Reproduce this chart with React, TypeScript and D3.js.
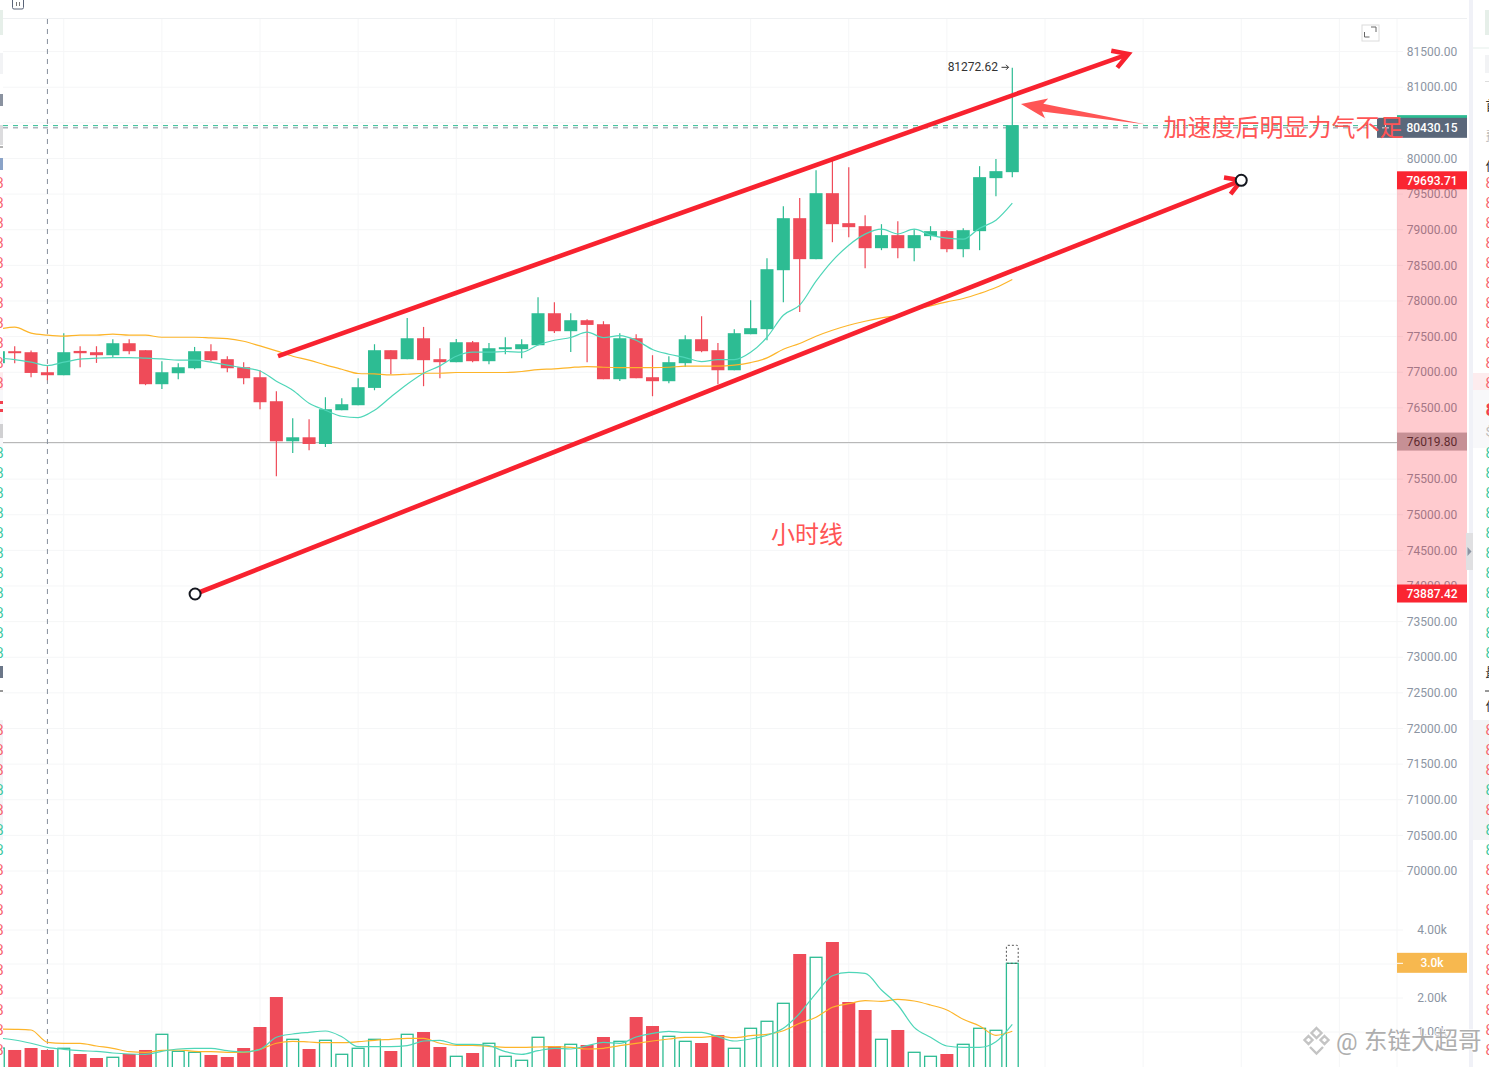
import React, { useEffect, useRef } from 'react';
import * as d3 from 'd3';

// hourly candles
const opens = [77127, 77295, 77281, 77000, 76958, 77299, 77281, 77239, 77407, 77309, 76832, 76986, 77056, 77295, 77183, 77070, 76930, 76593, 76031, 76087, 75993, 76467, 76537, 76780, 77309, 77183, 77477, 77183, 77141, 77421, 77155, 77323, 77323, 77379, 77828, 77576, 77730, 77674, 76902, 77477, 76930, 76874, 77127, 77463, 77309, 77028, 77534, 77604, 78432, 79162, 78587, 79513, 79092, 79050, 78741, 78924, 78741, 78910, 78980, 78727, 78980, 79724, 79808];
const highs = [77295, 77365, 77305, 77085, 77548, 77365, 77365, 77463, 77463, 77309, 77155, 77127, 77355, 77393, 77225, 77141, 77028, 76733, 76354, 76340, 76649, 76635, 76916, 77393, 77309, 77762, 77636, 77337, 77468, 77439, 77411, 77491, 77463, 78053, 77983, 77828, 77744, 77716, 77548, 77534, 77239, 77225, 77520, 77786, 77411, 77604, 78011, 78601, 79331, 79447, 79836, 79977, 79878, 79204, 79078, 79120, 79008, 79050, 78994, 79022, 79892, 79991, 81272.62];
const lows = [77127, 77127, 76930, 76888, 76958, 77070, 77131, 77211, 77253, 76818, 76766, 76902, 77042, 77155, 77000, 76832, 76481, 75540, 75867, 75905, 75951, 76467, 76537, 76747, 76972, 77183, 76804, 76916, 77141, 77141, 77113, 77253, 77197, 77379, 77552, 77285, 77141, 76902, 76878, 76916, 76663, 76846, 77075, 77281, 76832, 77028, 77534, 77449, 77983, 77847, 78587, 78825, 78896, 78460, 78713, 78601, 78559, 78853, 78685, 78615, 78713, 79471, 79738];
const closes = [77295, 77267, 76990, 76958, 77281, 77267, 77239, 77407, 77295, 76832, 77000, 77070, 77295, 77169, 77056, 76916, 76579, 76031, 76087, 75993, 76481, 76551, 76790, 77309, 77183, 77477, 77169, 77141, 77421, 77155, 77337, 77351, 77393, 77828, 77576, 77730, 77664, 76902, 77477, 76916, 76874, 77141, 77463, 77295, 77028, 77548, 77618, 78446, 79162, 78587, 79513, 79078, 79036, 78741, 78924, 78741, 78924, 78980, 78727, 78994, 79738, 79822, 80468];

const priceMaFast = [77197, 77178, 77141, 77094, 77141, 77183, 77197, 77206, 77206, 77197, 77187, 77169, 77169, 77141, 77099, 77061, 77018, 76874, 76747, 76565, 76467, 76382, 76364, 76467, 76653, 76832, 76986, 77089, 77225, 77281, 77281, 77291, 77281, 77383, 77449, 77487, 77562, 77487, 77515, 77449, 77319, 77253, 77206, 77150, 77178, 77178, 77281, 77491, 77800, 77941, 78278, 78563, 78783, 78938, 79008, 78942, 79008, 78924, 78881, 78867, 79022, 79134, 79373];
const priceMaSlow = [77604, 77632, 77548, 77520, 77506, 77520, 77520, 77534, 77520, 77520, 77491, 77491, 77491, 77482, 77473, 77435, 77369, 77299, 77225, 77169, 77103, 77042, 76982, 76976, 76962, 76972, 76986, 76986, 76996, 76996, 76996, 76996, 77010, 77038, 77046, 77066, 77080, 77070, 77066, 77066, 77066, 77070, 77085, 77085, 77085, 77099, 77136, 77201, 77323, 77403, 77506, 77590, 77660, 77716, 77762, 77800, 77871, 77931, 77987, 78035, 78105, 78189, 78302];

const volumes = [529, 471, 529, 471, 521, 353, 235, 256, 353, 471, 932, 432, 403, 324, 265, 529, 1147, 2029, 785, 500, 756, 344, 521, 785, 441, 932, 1000, 559, 285, 382, 668, 285, 168, 844, 588, 638, 618, 853, 726, 1441, 1176, 873, 726, 676, 912, 521, 1109, 1315, 1844, 3294, 3197, 3647, 1882, 1647, 785, 1059, 403, 285, 353, 638, 1109, 1050, 3020];
const volMaFast = [824, 765, 668, 550, 491, 450, 432, 382, 353, 344, 432, 500, 521, 521, 450, 412, 491, 844, 941, 991, 1029, 862, 568, 568, 568, 597, 735, 756, 638, 638, 597, 421, 344, 450, 521, 500, 597, 697, 668, 853, 962, 1021, 991, 991, 862, 735, 794, 903, 1109, 1550, 2138, 2656, 2756, 2726, 2235, 1794, 1138, 844, 588, 550, 550, 715, 1226];
const volMaSlow = [1088, 1079, 1059, 697, 668, 668, 588, 521, 421, 403, 462, 471, 432, 421, 403, 403, 491, 668, 726, 706, 685, 685, 715, 756, 785, 815, 815, 668, 609, 609, 579, 550, 550, 559, 568, 550, 500, 521, 597, 668, 735, 794, 844, 844, 882, 832, 891, 932, 1038, 1256, 1432, 1726, 1832, 1920, 1903, 1962, 1912, 1794, 1647, 1373, 1176, 903, 1021];
const projectedVolume = 3550;

const priceTicks = [81500, 81000, 80500, 80000, 79500, 79000, 78500, 78000, 77500, 77000, 76500, 76000, 75500, 75000, 74500, 74000, 73500, 73000, 72500, 72000, 71500, 71000, 70500, 70000];
const hiddenPriceTicks = [80500, 76000];
const volumeTicks = [4000, 3000, 2000, 1000];
const gridIndexes = [4, 10, 16, 22, 28, 34, 40, 46, 52, 58, 64, 70, 76, 82];

// drawn lines, in [candle index, price]
const upperLine: [number, number][] = [[17.1, 77225], [69.1, 81465]];
const lowerLine: [number, number][] = [[12.03, 73887.42], [76, 79693.71]];
const calloutLine: [number, number][] = [[70.1, 80482], [62.53, 80763]];
const lastPrice = 80468;
const crosshairPrice = 80430.15;
const crosshairIndex = 3;
const lineTopPrice = 79693.71;
const lineBottomPrice = 73887.42;
const horizontalPrice = 76019.8;
const peakPrice = 81272.62;

const leftRows = 'rrrrrrrrrrr';
const greenRows = 'ggggggggggg';
const lowerRows = 'rrrgrggrrrrrrrrrr';

const GREEN = '#2dbc93';
const RED = '#ef4b59';
const TEAL = '#4fd6b8';
const ORANGE = '#fdb52a';
const AXIS_TEXT = '#8c95a3';
const GRID = '#f5f6f7';
const FONT = 'Roboto, sans-serif';
const CJK = '"Noto Sans CJK SC", sans-serif';

export default function App() {
  const svgRef = useRef<SVGSVGElement>(null);

  useEffect(() => {
    if (!svgRef.current) return;
    const svg = d3.select(svgRef.current);
    svg.selectAll('*').remove();

    const x = d3.scaleLinear().domain([0, 62]).range([-1.65, 1012.3]);
    const y = d3.scaleLinear().domain([70000, 81500]).range([871, 51.6]);
    const yVol = d3.scaleLinear().domain([0, 4000]).range([1066, 930]);

    const defs = svg.append('defs');
    defs.append('clipPath').attr('id', 'plot')
      .append('rect').attr('x', 3).attr('y', 19).attr('width', 1394).attr('height', 1048);

    // grid
    svg.append('line').attr('x1', 3).attr('x2', 1467).attr('y1', 18.5).attr('y2', 18.5).attr('stroke', '#eef0f2');
    const grid = svg.append('g').attr('stroke', GRID);
    grid.selectAll('.h').data(priceTicks).enter().append('line')
      .attr('x1', 3).attr('x2', 1403).attr('y1', d => y(d)).attr('y2', d => y(d));
    grid.selectAll('.hv').data(volumeTicks).enter().append('line')
      .attr('x1', 3).attr('x2', 1403).attr('y1', d => yVol(d)).attr('y2', d => yVol(d));
    grid.selectAll('.v').data(gridIndexes).enter().append('line')
      .attr('x1', d => x(d)).attr('x2', d => x(d)).attr('y1', 19).attr('y2', 1067);
    grid.append('line').attr('x1', 1397).attr('x2', 1397).attr('y1', 19).attr('y2', 1067);

    const plot = svg.append('g').attr('clip-path', 'url(#plot)');

    // price lines
    plot.append('line').attr('x1', 3).attr('x2', 1397)
      .attr('y1', y(horizontalPrice) + 0.5).attr('y2', y(horizontalPrice) + 0.5)
      .attr('stroke', '#b4b4b4').attr('stroke-width', 1);
    plot.append('line').attr('x1', 3).attr('x2', 1397)
      .attr('y1', y(lastPrice) + 0.5).attr('y2', y(lastPrice) + 0.5)
      .attr('stroke', GREEN).attr('stroke-dasharray', '5,5');
    plot.append('line').attr('x1', 3).attr('x2', 1397)
      .attr('y1', y(crosshairPrice)).attr('y2', y(crosshairPrice))
      .attr('stroke', '#868e9b').attr('stroke-dasharray', '5,5');
    plot.append('line').attr('x1', x(crosshairIndex)).attr('x2', x(crosshairIndex))
      .attr('y1', 19).attr('y2', 1067)
      .attr('stroke', '#868e9b').attr('stroke-dasharray', '5,5');

    // candles
    const candles = plot.append('g').selectAll('g').data(closes).enter().append('g');
    const candleColor = (i: number) => (closes[i] >= opens[i] ? GREEN : RED);
    candles.append('line')
      .attr('x1', (_, i) => x(i)).attr('x2', (_, i) => x(i))
      .attr('y1', (_, i) => y(highs[i])).attr('y2', (_, i) => y(lows[i]))
      .attr('stroke', (_, i) => candleColor(i)).attr('stroke-width', 1.2);
    candles.append('rect')
      .attr('x', (_, i) => x(i) - 6.5).attr('width', 13)
      .attr('y', (_, i) => y(Math.max(opens[i], closes[i])))
      .attr('height', (_, i) => Math.max(1.5, Math.abs(y(opens[i]) - y(closes[i]))))
      .attr('fill', (_, i) => candleColor(i));

    // moving averages
    const priceLine = d3.line<number>().x((_, i) => x(i)).y(d => y(d)).curve(d3.curveMonotoneX);
    plot.append('path').attr('d', priceLine(priceMaSlow)).attr('fill', 'none').attr('stroke', ORANGE).attr('stroke-width', 1.2);
    plot.append('path').attr('d', priceLine(priceMaFast)).attr('fill', 'none').attr('stroke', TEAL).attr('stroke-width', 1.2);

    // volume
    const isUp = (i: number) => closes[i] >= opens[i];
    plot.append('g').selectAll('rect').data(volumes).enter().append('rect')
      .attr('x', (_, i) => x(i) - (isUp(i) ? 5.9 : 6.5))
      .attr('width', (_, i) => (isUp(i) ? 11.8 : 13))
      .attr('y', d => yVol(d))
      .attr('height', d => 1069 - yVol(d))
      .attr('fill', (_, i) => (isUp(i) ? '#fff' : RED))
      .attr('stroke', (_, i) => (isUp(i) ? GREEN : 'none'))
      .attr('stroke-width', 1.3);
    plot.append('rect')
      .attr('x', x(62) - 5.9).attr('width', 11.8)
      .attr('y', yVol(projectedVolume)).attr('height', yVol(volumes[62]) - yVol(projectedVolume))
      .attr('rx', 1.5)
      .attr('fill', 'none').attr('stroke', '#555').attr('stroke-dasharray', '2,2');
    const volLine = d3.line<number>().x((_, i) => x(i)).y(d => yVol(d)).curve(d3.curveMonotoneX);
    plot.append('path').attr('d', volLine(volMaSlow)).attr('fill', 'none').attr('stroke', ORANGE).attr('stroke-width', 1.2);
    plot.append('path').attr('d', volLine(volMaFast)).attr('fill', 'none').attr('stroke', TEAL).attr('stroke-width', 1.2);

    // axis labels
    const axis = svg.append('g').attr('font-family', FONT).attr('font-size', 12)
      .attr('fill', AXIS_TEXT).attr('text-anchor', 'middle');
    axis.selectAll('.p').data(priceTicks.filter(d => !hiddenPriceTicks.includes(d))).enter().append('text')
      .attr('x', 1432).attr('y', d => y(d)).attr('dy', '0.35em')
      .text(d => d3.format('.2f')(d));
    axis.selectAll('.v').data(volumeTicks).enter().append('text')
      .attr('x', 1432).attr('y', d => yVol(d)).attr('dy', '0.35em')
      .text(d => `${d3.format('.2f')(d / 1000)}k`);

    // gray level badge sits under the pink band
    svg.append('rect').attr('x', 1397).attr('width', 70).attr('y', y(horizontalPrice) - 9.5).attr('height', 18)
      .attr('fill', '#b7b4b6');
    svg.append('text').attr('x', 1432).attr('y', y(horizontalPrice) - 0.5).attr('dy', '0.35em')
      .attr('text-anchor', 'middle').attr('font-family', FONT).attr('font-size', 12).attr('fill', '#333')
      .text(horizontalPrice.toFixed(2));

    // band between the two ends of the lower line
    svg.append('rect').attr('x', 1397).attr('width', 70)
      .attr('y', y(lineTopPrice)).attr('height', y(lineBottomPrice) - y(lineTopPrice))
      .attr('fill', '#ff0a1a').attr('opacity', 0.21);

    const badge = (fill: string, label: string, top: number, h: number, left = 1397) => {
      svg.append('rect').attr('x', left).attr('width', 1467 - left).attr('y', top).attr('height', h).attr('fill', fill);
      svg.append('text').attr('x', 1432).attr('y', top + h / 2).attr('dy', '0.35em')
        .attr('text-anchor', 'middle').attr('font-family', FONT).attr('font-size', 12)
        .attr('font-weight', 500).attr('fill', '#fff').text(label);
    };
    svg.append('rect').attr('x', 1397).attr('width', 70).attr('y', y(lastPrice) - 10).attr('height', 20).attr('fill', GREEN);
    badge('#5a677a', crosshairPrice.toFixed(2), y(crosshairPrice) - 10, 20, 1377);
    svg.append('path').attr('d', `M1382 ${y(crosshairPrice)}h7M1385.5 ${y(crosshairPrice) - 3.5}v7`)
      .attr('stroke', '#fff').attr('stroke-width', 0.8);
    badge('#fa2531', lineTopPrice.toFixed(2), y(lineTopPrice) - 9, 18);
    badge('#fa2531', lineBottomPrice.toFixed(2), y(lineBottomPrice) - 9.5, 18);
    badge('#f7b84f', '3.0k', yVol(volumes[62]) - 10.5, 20);
    svg.append('line').attr('x1', 1397).attr('x2', 1403)
      .attr('y1', yVol(volumes[62])).attr('y2', yVol(volumes[62])).attr('stroke', '#fff');

    // peak label
    svg.append('text').attr('x', 998).attr('y', y(peakPrice) - 1).attr('dy', '0.35em')
      .attr('text-anchor', 'end').attr('font-family', FONT).attr('font-size', 12).attr('fill', '#333')
      .text(peakPrice.toFixed(2));
    svg.append('path').attr('d', `M1001.5 ${y(peakPrice) - 0.5}h7m-2.5 -2.5l2.5 2.5l-2.5 2.5`)
      .attr('fill', 'none').attr('stroke', '#333').attr('stroke-width', 1);

    // drawn arrows
    const px = (p: [number, number]): [number, number] => [x(p[0]), y(p[1])];
    const drawArrow = (line: [number, number][]) => {
      const [a, b] = line.map(px);
      const len = Math.hypot(b[0] - a[0], b[1] - a[1]);
      const ux = (b[0] - a[0]) / len;
      const uy = (b[1] - a[1]) / len;
      const g = svg.append('g').attr('fill', 'none').attr('stroke', '#f8222f').attr('stroke-width', 4.6);
      g.append('line').attr('x1', a[0]).attr('y1', a[1]).attr('x2', b[0]).attr('y2', b[1]);
      const back = 15;
      const wide = 9;
      g.append('path').attr('d', d3.line()([
        [b[0] - ux * back - uy * wide, b[1] - uy * back + ux * wide],
        [b[0], b[1]],
        [b[0] - ux * back + uy * wide, b[1] - uy * back - ux * wide],
      ]));
    };
    drawArrow(upperLine);
    drawArrow(lowerLine);
    lowerLine.map(px).forEach(p => {
      svg.append('circle').attr('cx', p[0]).attr('cy', p[1]).attr('r', 5.5)
        .attr('fill', '#fff').attr('stroke', '#14171f').attr('stroke-width', 2);
    });

    // callout arrow, tapered to nothing at the tail
    const [tail, tip] = calloutLine.map(px);
    const cLen = Math.hypot(tip[0] - tail[0], tip[1] - tail[1]);
    const cx = (tip[0] - tail[0]) / cLen;
    const cy = (tip[1] - tail[1]) / cLen;
    const at = (along: number, side: number): [number, number] => [
      tip[0] - cx * along - cy * side,
      tip[1] - cy * along + cx * side,
    ];
    svg.append('path')
      .attr('d', `${d3.line()([tail, at(22, 4), at(26, 10), tip, at(26, -10), at(22, -4)])}Z`)
      .attr('fill', '#ff5555');

    // hand written notes
    const notes = svg.append('g').attr('font-family', CJK).attr('font-size', 24).attr('fill', '#ff5555');
    notes.append('text').attr('x', 1163.5).attr('y', 127).attr('dy', '0.36em').text('加速度后明显力气不足');
    notes.append('text').attr('x', 771).attr('y', 534.5).attr('dy', '0.36em').text('小时线');

    // expand icon and top left tool
    svg.append('rect').attr('x', 1362).attr('y', 25).attr('width', 17).attr('height', 16)
      .attr('fill', '#fff').attr('stroke', '#dcdcdc');
    svg.append('path').attr('d', 'M1371 27H1376V32M1364.5 32V37H1369.5')
      .attr('fill', 'none').attr('stroke', '#666');
    svg.append('rect').attr('x', 12.5).attr('y', -3).attr('width', 11).attr('height', 12).attr('rx', 1.5)
      .attr('fill', '#fff').attr('stroke', '#5a6478');
    svg.append('path').attr('d', 'M16.5 2V6M19.5 2V6').attr('stroke', '#777');

    // neighbouring panels cut off by the screenshot
    const panels: [number, number, number, number, string][] = [
      [1469, 0, 4, 1067, '#f0f1f7'],
      [1473, 373, 16, 17, '#fdecee'],
      [1473, 390, 16, 58, '#f8f8fa'],
      [1473, 720, 16, 120, '#f3f4f6'],
      [1485, 10, 4, 25, '#e6efe9'],
      [1473, 47.5, 16, 1, '#e5f0ec'],
      [1485, 55, 4, 18, '#f2f3f5'],
      [1485, 81, 4, 1, '#dddddd'],
      [0, 372, 3, 18, '#fdecee'],
      [0, 390, 3, 58, '#f8f8fa'],
      [0, 720, 3, 120, '#f3f4f6'],
      [0, 10, 3, 25, '#e6efe9'],
      [0, 53, 3, 21, '#f2f3f5'],
      [0, 94, 3, 12, '#8a92a0'],
      [0, 125, 3, 20, '#dcdcde'],
      [0, 158, 3, 12, '#8aa3c8'],
      [0, 401, 3, 3, '#f2404e'],
      [0, 409, 3, 3, '#f2404e'],
      [0, 424, 3, 14, '#d0d0d2'],
      [0, 666, 3, 12, '#6b7688'],
      [1466, 533, 7, 37, '#e0e0e2'],
    ];
    svg.append('g').selectAll('rect').data(panels).enter().append('rect')
      .attr('x', d => d[0]).attr('y', d => d[1]).attr('width', d => d[2]).attr('height', d => d[3]).attr('fill', d => d[4]);
    svg.append('path').attr('d', 'M1467.5 547l4 4.5l-4 4.5Z').attr('fill', '#8c95a3');

    const rowColor = (c: string) => (c === 'r' ? '#f7626e' : '#3cc8a0');
    const rows: [string, number][] = [
      ...leftRows.split('').map((c, i): [string, number] => [c, 183 + i * 20]),
      ...greenRows.split('').map((c, i): [string, number] => [c, 453 + i * 20]),
      ...lowerRows.split('').map((c, i): [string, number] => [c, 730 + i * 20]),
    ];
    const edge = svg.append('g').attr('font-family', FONT).attr('font-size', 14);
    edge.selectAll('.r').data(rows).enter().append('text')
      .attr('x', 1485.5).attr('y', d => d[1]).attr('dy', '0.35em').attr('fill', d => rowColor(d[0])).text('8');
    edge.selectAll('.l').data(rows).enter().append('text')
      .attr('x', 3.5).attr('y', d => d[1]).attr('dy', '0.35em').attr('text-anchor', 'end').attr('fill', d => rowColor(d[0])).text('8');
    edge.append('text').attr('x', 1485.5).attr('y', 105).attr('dy', '0.35em').attr('font-family', CJK).attr('font-size', 13).attr('fill', '#333').text('首');
    edge.append('text').attr('x', 1485.5).attr('y', 135).attr('dy', '0.35em').attr('font-family', CJK).attr('font-size', 13).attr('fill', '#bbb').text('费');
    edge.append('text').attr('x', 1485.5).attr('y', 165).attr('dy', '0.35em').attr('font-family', CJK).attr('font-size', 13).attr('fill', '#333').text('价');
    edge.append('text').attr('x', 1485.5).attr('y', 410).attr('dy', '0.35em').attr('font-size', 18).attr('font-weight', 700).attr('fill', '#f2404e').text('8');
    edge.append('text').attr('x', 1485.5).attr('y', 431).attr('dy', '0.35em').attr('font-size', 13).attr('fill', '#bbb').text('$');
    edge.append('text').attr('x', 1485.5).attr('y', 672).attr('dy', '0.35em').attr('font-family', CJK).attr('font-size', 13).attr('fill', '#333').text('最');
    edge.append('text').attr('x', 1485.5).attr('y', 705).attr('dy', '0.35em').attr('font-family', CJK).attr('font-size', 13).attr('fill', '#333').text('价');
    edge.append('line').attr('x1', 1485).attr('x2', 1489).attr('y1', 691).attr('y2', 691).attr('stroke', '#333');
    edge.append('line').attr('x1', 0).attr('x2', 3).attr('y1', 691).attr('y2', 691).attr('stroke', '#333');
    edge.append('line').attr('x1', 0).attr('x2', 3).attr('y1', 147).attr('y2', 147).attr('stroke', '#666');

    // watermark
    const mark = svg.append('g').attr('fill', 'none').attr('stroke', '#c4c4c4').attr('stroke-width', 2.4);
    mark.append('path').attr('d', 'M1316.5 1028l5 5l-5 5l-5 -5Z');
    mark.append('path').attr('d', 'M1308.5 1036l4 4l-4 4l-4 -4ZM1324.5 1036l4 4l-4 4l-4 -4Z');
    mark.append('path').attr('d', 'M1310 1047l6.5 6.5l6.5 -6.5');
    const wm = svg.append('g').attr('fill', '#aeaeae').attr('stroke', '#ffffff').attr('stroke-width', 1.6).attr('paint-order', 'stroke');
    wm.append('text').attr('x', 1336).attr('y', 1041).attr('dy', '0.36em').attr('font-family', FONT).attr('font-size', 24).text('@');
    wm.append('text').attr('x', 1364).attr('y', 1041).attr('dy', '0.36em').attr('font-family', CJK).attr('font-size', 23.5).text('东链大超哥');
  }, []);

  return (
    <svg
      ref={svgRef}
      width={1489}
      height={1067}
      viewBox="0 0 1489 1067"
      style={{ position: 'absolute', left: 0, top: 0, background: '#fff', display: 'block' }}
    />
  );
}
